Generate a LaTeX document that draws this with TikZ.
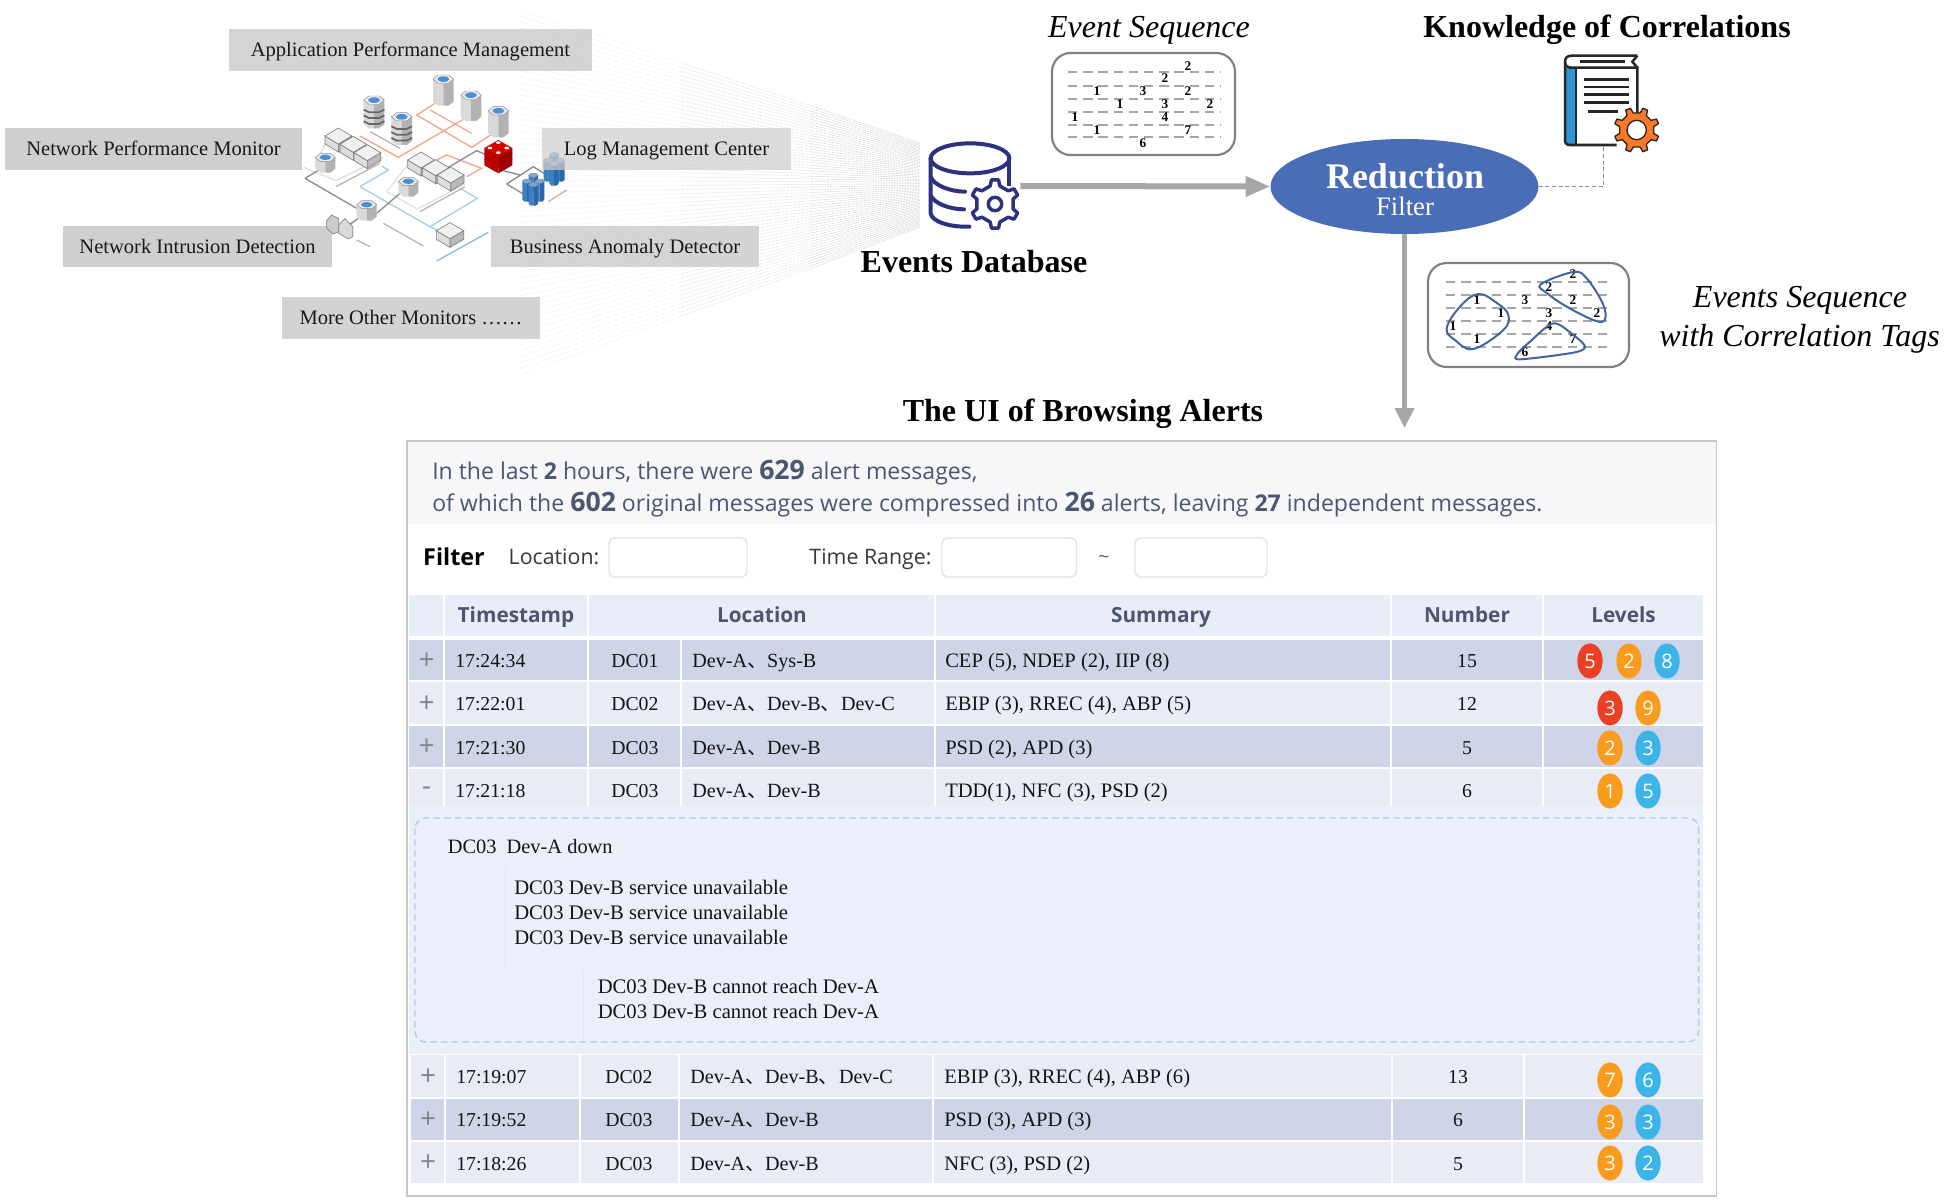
\documentclass[tikz,border=0pt]{standalone}
\usepackage{fontspec}
\setmainfont{Liberation Serif}
\newfontfamily\uifont{Open Sans}
\newfontfamily\cjk{Noto Sans CJK SC}
\usetikzlibrary{arrows.meta,calc,shapes.geometric}
\definecolor{boxgray}{HTML}{CFCFCF}
\definecolor{arrgray}{HTML}{A6A6A6}
\definecolor{filtblue}{HTML}{4A6EB5}
\definecolor{navy}{HTML}{2C327E}
\definecolor{uitext}{HTML}{4B5670}
\definecolor{rowdark}{HTML}{CFD5E9}
\definecolor{rowlight}{HTML}{E9EBF5}
\definecolor{headbg}{HTML}{E9EDF7}
\definecolor{expbg}{HTML}{EAEFF9}
\definecolor{panelbg}{HTML}{F7F7F9}
\definecolor{lvred}{HTML}{EA4124}
\definecolor{lvorange}{HTML}{F99B1C}
\definecolor{lvblue}{HTML}{3DB4E8}
\definecolor{salmon}{HTML}{F4A58A}
\definecolor{netblue}{HTML}{A9CDE8}
\definecolor{capblue}{HTML}{4A90D4}
\definecolor{clusterL}{HTML}{3C7FC4}
\definecolor{clusterR}{HTML}{2A68AB}
\definecolor{clusterT}{HTML}{7FA9D6}
\definecolor{labelblue}{HTML}{8FB8DE}
\newcommand\fs[1]{\fontsize{#1}{#1}\selectfont}
\newcommand\dun{{\cjk\char"3001}}
\tikzset{
  gtext/.style={inner sep=0pt,font=\fs{15.4},text height=.68em,text depth=.2em,text=black!90,yshift=-2.6pt},
  title/.style={inner sep=0pt,font=\fs{24}\bfseries,text height=.68em,text depth=.2em,yshift=-4.4pt},
  ititle/.style={inner sep=0pt,font=\fs{24}\itshape,text height=.68em,text depth=.2em,yshift=-4.4pt},
  numtxt/.style={inner sep=0pt,font=\fs{10}\bfseries,text=black},
  evbox/.style={draw=black!50,line width=1.6pt,rounded corners=14pt,fill=white},
  evdash/.style={draw=arrgray,line width=1.4pt,dash pattern=on 7pt off 4.4pt},
  cell/.style={inner sep=0pt,font=\fs{14.8},text=black!92},
  uihead/.style={inner sep=0pt,font=\uifont\bfseries\fs{15.6},text=uitext,text height=.7em,text depth=.2em,yshift=-2.6pt},
  uimsg/.style={inner sep=0pt,font=\uifont\fs{17.3},text=uitext,anchor=base west},
  inputbox/.style={draw=black!11,line width=1.1pt,rounded corners=4pt,fill=white},
  lvl/.style={ellipse,inner sep=0pt,minimum width=19pt,minimum height=26.5pt,text=white,font=\uifont\fs{15}},
  sep/.style={draw=white,line width=1.4pt},
  blob/.style={draw=filtblue!90!black,line width=1.5pt},
  wire/.style={line width=1pt},
  tinylabel/.style={line width=.9pt,draw=black!30},
  bigarr/.style={draw=arrgray,color=arrgray},
}
% cx cy Rout Rin teeth rot style
\newcommand\mygear[7]{%
  \pgfmathsetmacro\gho{360/#5*.14}\pgfmathsetmacro\ghi{360/#5*.25}%
  \begin{scope}[shift={(#1,#2)}]
  \draw[#7] (#6+\ghi:#4)
    \foreach \k [evaluate=\k as \a using #6+360*\k/#5] in {1,...,#5}{
      -- (\a-\ghi:#4) -- (\a-\gho:#3) -- (\a+\gho:#3) -- (\a+\ghi:#4)} -- cycle;
  \end{scope}}
% small event digit
\newcommand\evn[3]{\node[numtxt] (ev-#1-#2) at (#1,#2) {#3};}
% octagonal cylinder: cx top bot w bodyL bodyR topcol capcol
\newcommand\mycyl[8]{%
  \pgfmathsetmacro\e{#4/5}\pgfmathsetmacro\wh{#4/2}\pgfmathsetmacro\wq{#4/4}%
  \pgfmathsetmacro\xl{#1-\wh}\pgfmathsetmacro\xr{#1+\wh}\pgfmathsetmacro\xa{#1-\wq}\pgfmathsetmacro\xb{#1+\wq}%
  \pgfmathsetmacro\yt{#2+\e}\pgfmathsetmacro\ytt{#2+2*\e}\pgfmathsetmacro\yb{#3-\e}%
  \fill[#5] (\xl,\yt) -- (\xl,\yb) -- (\xa,#3) -- (#1,#3) -- (#1,\ytt) -- cycle;
  \fill[#6] (#1,\ytt) -- (#1,#3) -- (\xb,#3) -- (\xr,\yb) -- (\xr,\yt) -- cycle;
  \draw[black!45,line width=.35pt,fill=#7] (\xl,\yt) -- (\xa,#2) -- (\xb,#2) -- (\xr,\yt) -- (\xb,\ytt) -- (\xa,\ytt) -- cycle;
  \fill[#8] (#1,\yt) ellipse [x radius=\wq*1.15,y radius=\e*.68];
}
\newcommand\gcyl[4]{\mycyl{#1}{#2}{#3}{#4}{black!15}{black!30}{black!8}{capblue}}
\newcommand\bcyl[3]{\mycyl{#1}{#2}{#3}{28}{clusterL}{clusterR}{clusterT}{clusterT}}
\newcommand\stackcyl[3]{\gcyl{#1}{#2}{#3}{62}
  \foreach \t in {.42,.6,.78}{\draw[black!60,line width=1.3pt] (#1-31,{#2+\t*(#3-#2)}) -- (#1-15,{#2+\t*(#3-#2)+8}) -- (#1+15,{#2+\t*(#3-#2)+8}) -- (#1+31,{#2+\t*(#3-#2)});}}
\newcommand\isobox[5]{%
  \draw[black!50,line width=.5pt,fill=black!27] (#1,#2+#4) -- (#1+#3,#2) -- (#1+#3,#2+#5) -- (#1,#2+#4+#5) -- cycle;
  \draw[black!50,line width=.5pt,fill=black!13] (#1,#2+#4) -- (#1-#3,#2) -- (#1-#3,#2+#5) -- (#1,#2+#4+#5) -- cycle;
  \draw[black!50,line width=.5pt,fill=black!6] (#1-#3,#2) -- (#1,#2-#4) -- (#1+#3,#2) -- (#1,#2+#4) -- cycle;}
\newcommand\redlayer[1]{%
  \fill[red!72!black] (613,#1) -- (655,#1+24) -- (655,#1+42) -- (613,#1+18) -- cycle;
  \fill[red!62!black] (697,#1) -- (655,#1+24) -- (655,#1+42) -- (697,#1+18) -- cycle;
  \fill[red!85!black] (613,#1) -- (655,#1-24) -- (697,#1) -- (655,#1+24) -- cycle;}
% rows
\newcommand\rowbg[3]{\fill[#3] (\rowL,#1) rectangle (1703,#2);}
\newcommand\rowt[8]{%
  \node[inner sep=0pt,font=\uifont\fs{21},text=black!48] (sg#1) at (\cP,#2) {#3};
  \node[cell,anchor=base west] (tm#1) at (\cT,#2+6.7) {#4};
  \node[cell,anchor=base west] (dc#1) at (\cD,#2+6.7) {#5};
  \node[cell,anchor=base west,font=\fs{15.1}] (dv#1) at (\cV,#2+6.7) {#6};
  \node[cell,anchor=base west,font=\fs{15.4}] (sm#1) at (\cS,#2+6.7) {#7};
  \node[cell,anchor=base] (nb#1) at (\cN,#2+6.7) {#8};}
\newcommand\lv[4]{\node[lvl,fill=#3] (lv-#1-#2) at (#1,#2) {#4};}
\newcommand\gb[2]{{\uifont\bfseries\fs{#1}#2}}
\begin{document}
\begin{tikzpicture}[x=.75pt,y=-.75pt]
\useasboundingbox (0,0) rectangle (1945,1202);
\fill[white] (0,0) rectangle (1945,1202);
% data stream
\foreach \i in {0,...,60}{
  \pgfmathsetmacro\ya{10+\i*6.083}
  \pgfmathsetmacro\yb{143+\i*1.4}
  \pgfmathsetmacro\ym{\ya+.4*(\yb-\ya)}
  \pgfmathsetmacro\yn{\ya+.72*(\yb-\ya)}
  \draw[black!3,line width=.7pt,dash pattern=on 3pt off 1pt] (520,\ya) -- (682,\ym);
  \draw[black!8,line width=.55pt,dash pattern=on 2.2pt off .8pt] (682,\ym) -- (811,\yn);
  \draw[black!17,line width=.4pt,dash pattern=on 1.4pt off .6pt] (811,\yn) -- (920,\yb);
}
% network illustration
\begin{scope}[x=.25pt,y=-.25pt,shift={(840,180)}]
  \draw[black!12,wire] (105,322) -- (135,250);
  \draw[black!12,wire] (70,322) -- (168,362) -- (310,292);
  \draw[black!12,wire] (320,395) -- (385,312);
  \draw[black!12,wire] (320,395) -- (412,447) -- (555,372);
  \draw[salmon,wire] (465,130) -- (410,165) -- (575,262) -- (640,220);
  \draw[salmon,wire] (240,228) -- (355,292) -- (550,178);
  \draw[salmon,wire] (470,300) -- (500,285) -- (605,325) -- (560,350);
  \draw[netblue,wire] (240,380) -- (450,500) -- (592,415) -- (540,385);
  \draw[netblue,wire] (240,380) -- (325,330) -- (305,318);
  \draw[netblue,wire] (450,500) -- (475,512);
  \draw[black!45,wire] (75,355) -- (230,445);
  \draw[black!45,wire] (75,355) -- (125,325);
  \draw[black!45,wire] (290,460) -- (360,400);
  \draw[black!45,wire] (235,475) -- (200,500);
  \draw[black!45,wire] (500,325) -- (590,272) -- (620,285);
  \draw[black!45,wire] (680,372) -- (760,320) -- (800,345);
  \draw[black!45,wire] (680,372) -- (730,402);
  \draw[black!45,wire] (670,332) -- (720,345);
  \draw[tinylabel] (168,380) -- (300,310);
  \draw[tinylabel] (420,455) -- (555,380);
  \draw[tinylabel] (270,215) -- (360,265);
  \draw[tinylabel] (310,490) -- (430,558);
  \draw[tinylabel] (230,540) -- (270,560);
  \draw[tinylabel] (805,425) -- (860,390);
  \draw[tinylabel,draw=salmon] (450,150) -- (575,220);
  \draw[line width=1pt,draw=labelblue] (470,603) -- (625,517);
  \gcyl{490}{45}{137}{62}
  \gcyl{573}{93}{183}{62}
  \gcyl{655}{140}{232}{62}
  \stackcyl{282}{108}{205}
  \stackcyl{365}{158}{255}
  \isobox{175}{228}{40}{24}{24}
  \isobox{220}{253}{40}{24}{24}
  \isobox{262}{278}{40}{24}{24}
  \gcyl{136}{280}{338}{60}
  \isobox{423}{300}{40}{24}{24}
  \isobox{467}{323}{40}{24}{24}
  \isobox{512}{345}{40}{24}{24}
  \gcyl{385}{352}{410}{60}
  \gcyl{260}{422}{482}{60}
  \isobox{510}{512}{41}{24}{26}
  \redlayer{298}
  \redlayer{281}
  \redlayer{264}
  \foreach \p/\q in {655/248,630/264,680/264,655/278}{\fill[white] (\p,\q) ellipse [x radius=7,y radius=4];}
  \bcyl{822}{278}{340}
  \bcyl{805}{295}{365}
  \bcyl{840}{295}{365}
  \bcyl{822}{305}{377}
  \bcyl{760}{340}{400}
  \bcyl{741}{358}{425}
  \bcyl{779}{358}{425}
  \bcyl{760}{368}{437}
\end{scope}
% monitor labels
\foreach \nm/\xa/\ya/\xb/\yb/\op/\tx in {
  apm/229/29/592/71/.88/Application Performance Management,
  npm/5/128/302/170/1/Network Performance Monitor,
  lmc/542/128/791/170/.72/Log Management Center,
  nid/63/226/332/267/1/Network Intrusion Detection,
  bad/491/226/759/267/.88/Business Anomaly Detector,
  mor/282/297/540/339/.9/More Other Monitors \ldots\ldots}{
  \fill[boxgray,fill opacity=\op] (\xa,\ya) rectangle (\xb,\yb);
  \node[gtext] (\nm) at ({(\xa+\xb)/2},{(\ya+\yb)/2}) {\tx};
}
% firewall over its label
\begin{scope}[x=.25pt,y=-.25pt,shift={(840,180)}]
  \draw[black!50,line width=.5pt,fill=black!20] (140,482) -- (155,465) -- (176,476) -- (176,515) -- (160,522) -- (140,505) -- cycle;
  \draw[black!50,line width=.5pt,fill=black!15] (176,495) -- (195,476) -- (218,500) -- (218,530) -- (205,537) -- (176,520) -- cycle;
\end{scope}
% database
\node[inner sep=0pt,minimum width=66.75pt,minimum height=64.5pt] (db) at (975.5,186) {};
\begin{scope}[x=.25pt,y=-.25pt,shift={(2760,390)}]
  \draw[navy,line width=3pt] (150,85) ellipse [x radius=118,y radius=45];
  \draw[navy,line width=3pt,line cap=round] (32,85) -- (32,250) .. controls (35,275) and (90,292) .. (148,290);
  \draw[navy,line width=3pt,line cap=round] (32,140) .. controls (40,165) and (90,185) .. (135,185);
  \draw[navy,line width=3pt,line cap=round] (32,195) .. controls (40,220) and (90,238) .. (132,238);
  \draw[navy,line width=3pt] (268,85) -- (268,168);
  \mygear{225}{222}{73}{56}{6}{30}{navy,line width=2.6pt,fill=white,line join=round}
  \draw[navy,line width=2.6pt] (225,222) circle [radius=20];
\end{scope}
\node[title] (dbl) at (974,263) {Events Database};
\node[ititle] (est) at (1149,28) {Event Sequence};
\node[title] (kno) at (1607,28) {Knowledge of Correlations};
\node[title] (uit) at (1083,412) {The UI of Browsing Alerts};
\node[ititle,align=center] (tg1) at (1800,298) {Events Sequence};
\node[ititle,align=center] (tg2) at (1799.5,337) {with Correlation Tags};
% event sequence box
\path[evbox] (1052,53) rectangle (1235,155);
\foreach \y in {72.3,85.7,98.7,111.7,124.7,137.3}{\draw[evdash] (1068,\y) -- (1221,\y);}
\evn{1188}{66}{2}\evn{1165}{78}{2}\evn{1097}{91}{1}\evn{1143}{91}{3}\evn{1188}{91}{2}
\evn{1120}{104}{1}\evn{1165}{104}{3}\evn{1210}{104}{2}\evn{1075}{117}{1}\evn{1165}{117}{4}
\evn{1097}{130}{1}\evn{1188}{130}{7}\evn{1143}{143}{6}
% tagged box
\path[evbox] (1428,263) rectangle (1629,367);
\foreach \y in {282,295,308,321,334,347}{\draw[evdash] (1446,\y) -- (1609,\y);}
\evn{1573}{274}{2}\evn{1549}{287}{2}\evn{1477}{300}{1}\evn{1525}{300}{3}\evn{1573}{300}{2}
\evn{1501}{313}{1}\evn{1549}{313}{3}\evn{1597}{313}{2}\evn{1453}{326}{1}\evn{1549}{326}{4}
\evn{1477}{339}{1}\evn{1573}{339}{7}\evn{1525}{352}{6}
\begin{scope}[x=.25pt,y=-.25pt,shift={(4230,750)}]
  \draw[blob] plot[smooth cycle,tension=.65] coordinates {(205,132) (262,160) (295,195) (280,240) (190,297) (135,270) (110,235) (150,170)};
  \draw[blob] plot[smooth cycle,tension=.6] coordinates {(392,103) (490,66) (530,85) (578,160) (585,208) (555,212) (470,170) (412,130)};
  \draw[blob] plot[smooth cycle,tension=.5] coordinates {(430,220) (490,255) (525,290) (490,308) (330,328) (322,312) (360,275)};
\end{scope}
% book
\node[inner sep=0pt,minimum width=1pt,minimum height=1pt] (book) at (1603.5,145) {};
\begin{scope}[x=.25pt,y=-.25pt,shift={(4650,135)}]
  \fill[white] (45,35) rectangle (262,300);
  \fill[cyan!70!blue!85!white] (47,68) rectangle (78,298);
  \draw[black!85,line width=1.9pt,line join=round] (262,32) -- (65,32) .. controls (50,32) and (45,40) .. (45,52) -- (45,285) .. controls (45,295) and (50,300) .. (60,300) -- (200,300);
  \draw[black!85,line width=1.9pt] (45,52) .. controls (45,62) and (52,68) .. (65,68) -- (262,68) -- (262,215);
  \draw[black!85,line width=1.9pt] (262,32) -- (247,50) -- (262,68);
  \draw[black!85,line width=1.9pt] (78,68) -- (78,300);
  \draw[black!85,line width=1.9pt] (90,50) -- (225,50);
  \foreach \y in {103,126,149,172}{\draw[black!85,line width=1.9pt] (103,\y) -- (238,\y);}
  \draw[black!85,line width=1.9pt] (113,200) -- (205,200);
  \mygear{260}{255}{68}{52}{8}{22.5}{draw=black!85,line width=1pt,fill=orange!75!red!85!white,line join=round}
  \draw[black!85,line width=1pt,fill=white] (260,255) circle [radius=29];
\end{scope}
% filter
\node[ellipse,fill=filtblue,inner sep=0pt,minimum width=201pt,minimum height=71.25pt] (filt) at (1404.5,186.5) {};
\node[inner sep=0pt,text=white,font=\fs{27}\bfseries,text height=.68em,text depth=.2em,yshift=-6.3pt] (redu) at (1405,177) {Reduction};
\node[inner sep=0pt,text=white,font=\fs{20},text height=.68em,text depth=.2em,yshift=-3.4pt] (filx) at (1405,208) {Filter};
\coordinate (uitop) at (1404.5,428);
\draw[bigarr,line width=4.5pt,-{Triangle[length=18.5pt,width=14.5pt]}] (db.east) -- (filt.west);
\draw[bigarr,line width=3.75pt,-{Triangle[length=15pt,width=14pt]}] (filt.south) -- (uitop);
\draw[black!45,line width=.7pt,densely dashed] (filt.east) -| (book.south);
% UI panel
\fill[white] (407,441) rectangle (1716.5,1196);
\fill[panelbg] (407,441) rectangle (1716.5,524);
\draw[black!22,line width=1.2pt] (407,441) rectangle (1716.5,1196);
\node[uimsg] (msg1) at (432,479) {In the last \gb{17.3}{2} hours, there were \gb{20}{629} alert messages,};
\node[uimsg] (msg2) at (432,511) {of which the \gb{20}{602} original messages were compressed into \gb{20}{26} alerts, leaving \gb{17.3}{27} independent messages.};
\node[inner sep=0pt,font=\uifont\bfseries\fs{17.5},text=black,text height=.7em,text depth=.2em,yshift=-4.2pt] (ftl) at (454,557) {Filter};
\node[inner sep=0pt,font=\uifont\fs{16},text=black!78,text height=.7em,text depth=.2em,yshift=-3.4pt] (loc) at (554,557) {Location:};
\path[inputbox] (609,538) rectangle (747,577);
\node[inner sep=0pt,font=\uifont\fs{16},text=black!78,text height=.7em,text depth=.2em,yshift=-3.4pt] (trg) at (870.5,557) {Time Range:};
\path[inputbox] (942,538) rectangle (1076.5,577);
\node[inner sep=0pt,font=\uifont\fs{14.5},text=black!60] (tld) at (1104,559) {\textasciitilde};
\path[inputbox] (1135,538) rectangle (1267,577);
% table head
\fill[headbg] (409,595) rectangle (1703,636);
\foreach \x in {444,588,935,1391,1543}{\draw[sep] (\x,595) -- (\x,636);}
\node[uihead] (h1) at (516,616) {Timestamp};
\node[uihead] (h2) at (762,616) {Location};
\node[uihead] (h3) at (1161,616) {Summary};
\node[uihead] (h4) at (1467,616) {Number};
\node[uihead] (h5) at (1623.5,616) {Levels};
% rows group 1
\def\rowL{409}
\rowbg{640}{680}{rowdark}
\rowbg{682}{724}{rowlight}
\rowbg{726}{767}{rowdark}
\rowbg{769}{806}{rowlight}
\fill[expbg] (409,806) rectangle (1703,1054);
\foreach \x in {444,588,681,935,1391,1543}{\draw[sep] (\x,640) -- (\x,806);}
\def\cP{426.5}\def\cT{455}\def\cD{611}\def\cV{692}\def\cS{945}\def\cN{1467}
\rowt{a}{661}{+}{17:24:34}{DC01}{Dev-A\dun Sys-B}{CEP (5), NDEP (2), IIP (8)}{15}
\rowt{b}{704}{+}{17:22:01}{DC02}{Dev-A\dun Dev-B\dun Dev-C}{EBIP (3), RREC (4), ABP (5)}{12}
\rowt{c}{747.5}{+}{17:21:30}{DC03}{Dev-A\dun Dev-B}{PSD (2), APD (3)}{5}
\rowt{d}{791}{-}{17:21:18}{DC03}{Dev-A\dun Dev-B}{TDD(1), NFC (3), PSD (2)}{6}
\lv{1590}{661}{lvred}{5}\lv{1629}{661}{lvorange}{2}\lv{1667}{661}{lvblue}{8}
\lv{1610}{708}{lvred}{3}\lv{1648}{708}{lvorange}{9}
\lv{1610}{748}{lvorange}{2}\lv{1648}{748}{lvblue}{3}
\lv{1610}{791}{lvorange}{1}\lv{1648}{791}{lvblue}{5}
% expanded detail
\draw[draw=netblue,line width=1pt,dash pattern=on 5pt off 3pt,rounded corners=8pt] (415,818) rectangle (1698.6,1042);
\draw[black!10,line width=.7pt] (505,866) -- (505,972);
\draw[black!10,line width=.7pt] (583,972) -- (583,1038);
\node[cell,anchor=base west,font=\fs{15.3}] (e0) at (447.5,853) {DC03\ \ Dev-A down};
\node[cell,anchor=base west,font=\fs{15.5}] (e1) at (514,894) {DC03 Dev-B service unavailable};
\node[cell,anchor=base west,font=\fs{15.5}] (e2) at (514,919) {DC03 Dev-B service unavailable};
\node[cell,anchor=base west,font=\fs{15.5}] (e3) at (514,944) {DC03 Dev-B service unavailable};
\node[cell,anchor=base west,font=\fs{15.5}] (e4) at (597.5,993.5) {DC03 Dev-B cannot reach Dev-A};
\node[cell,anchor=base west,font=\fs{15.5}] (e5) at (597.5,1018.5) {DC03 Dev-B cannot reach Dev-A};
% rows group 2
\def\rowL{411}
\rowbg{1055}{1097}{rowlight}
\rowbg{1099}{1140}{rowdark}
\rowbg{1142}{1183}{rowlight}
\foreach \x in {445,580,678.6,933,1392,1524}{\draw[sep] (\x,1055) -- (\x,1183);}
\def\cP{428}\def\cT{456}\def\cD{605}\def\cV{690}\def\cS{944}\def\cN{1458}
\rowt{e}{1077}{+}{17:19:07}{DC02}{Dev-A\dun Dev-B\dun Dev-C}{EBIP (3), RREC (4), ABP (6)}{13}
\rowt{f}{1120}{+}{17:19:52}{DC03}{Dev-A\dun Dev-B}{PSD (3), APD (3)}{6}
\rowt{g}{1163.5}{+}{17:18:26}{DC03}{Dev-A\dun Dev-B}{NFC (3), PSD (2)}{5}
\lv{1610}{1080}{lvorange}{7}\lv{1648}{1080}{lvblue}{6}
\lv{1610}{1122}{lvorange}{3}\lv{1648}{1122}{lvblue}{3}
\lv{1610}{1163}{lvorange}{3}\lv{1648}{1163}{lvblue}{2}
\end{tikzpicture}
\end{document}
